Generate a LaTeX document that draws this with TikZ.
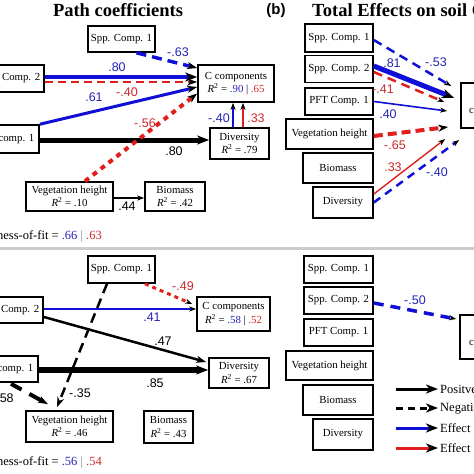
\documentclass[tikz,border=0pt]{standalone}
\usepackage{fontspec}
\setmainfont{Liberation Serif}
\newfontfamily\lsans{Liberation Sans}
\usetikzlibrary{arrows.meta}
\definecolor{pblue}{RGB}{15,15,215}
\definecolor{pred}{RGB}{225,30,30}
\definecolor{tblue}{RGB}{35,35,180}
\definecolor{tred}{RGB}{205,40,40}
\newcommand\Rsq{\textit{R}\textsuperscript{2}}
\begin{document}
\begin{tikzpicture}[x=1pt,y=-1pt,
 box/.style={draw,line width=1.6pt,fill=white,inner sep=0pt,align=center,font=\fontsize{10.8}{13.5}\selectfont},
 ebox/.style={box,inner xsep=4pt,anchor=east},
 lab/.style={font=\lsans\fontsize{12.5}{13}\selectfont,inner sep=0pt},
 txt/.style={font=\fontsize{12.5}{13}\selectfont,inner sep=0pt},
 bigarr/.style={-{Stealth[length=12pt,width=9pt,inset=3.5pt,color=black]}},
 midarr/.style={-{Stealth[length=10pt,width=7pt,inset=3pt,color=black]}},
 smallarr/.style={-{Stealth[length=7pt,width=5pt,inset=2pt,color=black]}},
]
\useasboundingbox (0,0) rectangle (474,474);
\clip (0,0) rectangle (474,474);

% titles
\node[font=\bfseries\fontsize{18.5}{20}\selectfont,anchor=base,inner sep=0pt] (t1) at (118,16) {Path coefficients};
\node[font=\lsans\bfseries\fontsize{15}{16}\selectfont,anchor=base,inner sep=0pt] (t2) at (276,14) {(b)};
\node[font=\bfseries\fontsize{18.5}{20}\selectfont,anchor=base west,inner sep=0pt] (t3) at (312,16) {Total Effects on soil C};

% separator
\draw[line width=3pt,gray!40] (0,248) coordinate (sepl) -- (474,248) coordinate (sepr);

% ---------- panel a top ----------
\node[box,minimum width=67pt,minimum height=26pt] (s1a) at (121.5,39) {Spp. Comp. 1};
\node[ebox,minimum height=27pt] (s2a) at (45,78.5) {Spp. Comp. 2};
\node[ebox,minimum height=28pt,inner xsep=5pt] (p1a) at (40,139) {PFT comp. 1};
\node[box,minimum width=76pt,minimum height=37pt] (Ca) at (236,83.5) {C components\\\Rsq{} = \textcolor{tblue}{.90} | \textcolor{tred}{.65}};
\node[box,minimum width=59pt,minimum height=31pt] (Da) at (239.5,143.5) {Diversity\\\Rsq{} = .79};
\node[box,minimum width=87pt,minimum height=29pt] (Va) at (69.5,196.5) {Vegetation height\\\Rsq{} = .10};
\node[box,minimum width=60pt,minimum height=29pt] (Ba) at (175,196.5) {Biomass\\\Rsq{} = .42};

\draw[pblue,line width=3.5pt,dash pattern=on 10pt off 6pt,midarr] ([xshift=15pt]s1a.south) -- ([yshift=15.5pt]Ca.west);
\draw[pblue,line width=4pt,bigarr] ([yshift=1.5pt]s2a.east) -- ([yshift=6.5pt]Ca.west);
\draw[pred,line width=2.5pt,dash pattern=on 8pt off 5pt,midarr] ([yshift=-3.5pt]s2a.east) -- ([yshift=1.5pt]Ca.west);
\draw[pblue,line width=3pt,midarr] (p1a.north east) -- ([yshift=-3.5pt]Ca.west);
\draw[line width=5pt,bigarr] ([yshift=-1pt]p1a.east) -- ([yshift=3.5pt]Da.west);
\draw[pred,line width=4pt,dash pattern=on 5pt off 5pt,midarr] ([xshift=15.5pt]Va.north) -- ([yshift=-10pt]Ca.west);
\draw[pblue,line width=2.5pt,smallarr] ([xshift=-6.5pt]Da.north) -- ([xshift=-3pt]Ca.south);
\draw[pred,line width=1.3pt,smallarr] ([xshift=3.5pt]Da.north) -- ([xshift=7pt]Ca.south);
\draw[line width=1.6pt,smallarr] ([yshift=-1.5pt]Va.east) -- ([yshift=-1.5pt]Ba.west);

\node[lab,tblue] (la1) at (178,52) {-.63};
\node[lab,tblue] (la2) at (117,67) {.80};
\node[lab,tred] (la3) at (127,92) {-.40};
\node[lab,tblue] (la4) at (94,97) {.61};
\node[lab] (la5) at (174,151) {.80};
\node[lab,tred] (la6) at (145,123) {-.56};
\node[lab,tblue] (la7) at (219,118) {-.40};
\node[lab,tred] (la8) at (256,118) {.33};
\node[lab] (la9) at (127,206) {.44};
\node[txt,anchor=base east] (gfa) at (102,239) {Goodness-of-fit = \textcolor{tblue}{.66} \textcolor{gray}{|} \textcolor{tred}{.63}};

% ---------- panel b top ----------
\node[box,minimum width=68pt,minimum height=28pt] (s1b) at (339,38) {Spp. Comp. 1};
\node[box,minimum width=68pt,minimum height=27pt] (s2b) at (339,69) {Spp. Comp. 2};
\node[box,minimum width=68pt,minimum height=27pt] (p1b) at (339,101.5) {PFT Comp. 1};
\node[box,minimum width=87pt,minimum height=30pt] (vhb) at (329.5,134) {Vegetation height};
\node[box,minimum width=70pt,minimum height=30pt] (bmb) at (338,168) {Biomass};
\node[box,minimum width=60pt,minimum height=31pt] (dvb) at (343,202.5) {Diversity};
\node[box,minimum width=80pt,minimum height=45pt] (tgb) at (501,105.5) {};
\node[font=\fontsize{10.8}{12}\selectfont,inner sep=0pt,anchor=base west] (tgbt) at (469,113) {c};

\draw[pblue,line width=2.5pt,dash pattern=on 9pt off 6pt,smallarr] ([yshift=-2pt]s1b.east) -- ([shift={(-9pt,19.5pt)}]tgb.west);
\draw[pblue,line width=5pt,bigarr] ([yshift=3pt]s2b.east) -- ([shift={(-6pt,7.5pt)}]tgb.west);
\draw[pred,line width=2.5pt,dash pattern=on 9pt off 6pt,smallarr] ([yshift=-3pt]s2b.east) -- ([shift={(-16pt,3.5pt)}]tgb.west);
\draw[pblue,line width=1.6pt,smallarr] (p1b.east) -- ([shift={(-13pt,-5.5pt)}]tgb.west);
\draw[pred,line width=4pt,dash pattern=on 9pt off 5pt,midarr] ([yshift=-2pt]vhb.east) -- ([shift={(-12pt,-21.5pt)}]tgb.west);
\draw[pred,line width=1.4pt,smallarr] ([yshift=8.5pt]dvb.east) -- ([shift={(-15pt,-33.5pt)}]tgb.west);
\draw[pblue,line width=2.5pt,dash pattern=on 8pt off 6pt,smallarr] (dvb.east) -- ([shift={(-1pt,-34.5pt)}]tgb.west);

\node[lab,tblue] (lb1) at (436,62) {-.53};
\node[lab,tblue] (lb2) at (392,63) {.81};
\node[lab,tred] (lb3) at (383,89) {-.41};
\node[lab,tblue] (lb4) at (388,114) {.40};
\node[lab,tred] (lb5) at (395,145) {-.65};
\node[lab,tred] (lb6) at (393,167) {.33};
\node[lab,tblue] (lb7) at (437,172) {-.40};

% ---------- panel a bottom ----------
\node[box,minimum width=67pt,minimum height=27pt] (s1c) at (121.5,269.5) {Spp. Comp. 1};
\node[ebox,minimum height=26pt] (s2c) at (44,310) {Spp. Comp. 2};
\node[box,minimum width=73pt,minimum height=34pt] (Cc) at (233.5,314) {C components\\\Rsq{} = \textcolor{tblue}{.58} | \textcolor{tred}{.52}};
\node[box,minimum width=60pt,minimum height=30pt] (Dc) at (239,373) {Diversity\\\Rsq{} = .67};
\node[ebox,minimum height=26pt,inner xsep=5pt] (p1c) at (39,369) {PFT comp. 1};
\node[box,minimum width=87pt,minimum height=31pt] (Vc) at (69.5,426.5) {Vegetation height\\\Rsq{} = .46};
\node[box,minimum width=49pt,minimum height=32pt] (Bc) at (168.5,427) {Biomass\\\Rsq{} = .43};

\draw[pblue,line width=1.4pt,smallarr] ([yshift=1pt]s2c.east) -- ([yshift=1pt]s2c.east -| Cc.west);
\draw[pred,line width=3pt,dash pattern=on 4pt off 4pt,smallarr] ([xshift=23.5pt]s1c.south) -- ([shift={(-4pt,10pt)}]Cc.west);
\draw[line width=2.5pt,midarr] ([yshift=-7pt]s2c.east) -- ([shift={(-2pt,11pt)}]Dc.west);
\draw[line width=5.5pt,bigarr] ([yshift=-1pt]p1c.east) -- ([yshift=-1pt]p1c.east -| Dc.west);
\draw[line width=2.5pt,dash pattern=on 10pt off 6pt,midarr] ([xshift=-14.5pt]s1c.south) -- ([shift={(-12.5pt,3pt)}]Vc.north);
\draw[line width=4pt,dash pattern=on 12pt off 9pt on 40pt,midarr] ([shift={(-28pt,-1pt)}]p1c.south east) -- ([shift={(-21.5pt,6pt)}]Vc.north);

\node[lab,tred] (lc1) at (183,286) {-.49};
\node[lab,tblue] (lc2) at (152,317) {.41};
\node[lab] (lc3) at (163,341) {.47};
\node[lab] (lc4) at (155,383) {.85};
\node[lab] (lc5) at (80,393) {-.35};
\node[lab] (lc6) at (5,398) {.58};
\node[txt,anchor=base east] (gfc) at (102,465) {Goodness-of-fit = \textcolor{tblue}{.56} \textcolor{gray}{|} \textcolor{tred}{.54}};

% ---------- panel b bottom ----------
\node[box,minimum width=69pt,minimum height=27pt] (s1d) at (338.5,269.5) {Spp. Comp. 1};
\node[box,minimum width=69pt,minimum height=27pt] (s2d) at (338.5,300.5) {Spp. Comp. 2};
\node[box,minimum width=69pt,minimum height=27pt] (p1d) at (338.5,332.5) {PFT Comp. 1};
\node[box,minimum width=87pt,minimum height=29pt] (vhd) at (329.5,365.5) {Vegetation height};
\node[box,minimum width=70pt,minimum height=30pt] (bmd) at (338,400) {Biomass};
\node[box,minimum width=60pt,minimum height=31pt] (dvd) at (343,434.5) {Diversity};
\node[box,minimum width=80pt,minimum height=44pt] (tgd) at (500,337) {};
\node[font=\fontsize{10.8}{12}\selectfont,inner sep=0pt,anchor=base west] (tgdt) at (469,345) {c};

\draw[pblue,line width=3.5pt,dash pattern=on 10pt off 7pt,smallarr] ([yshift=-2.5pt]s2d.east) -- ([shift={(-3pt,18pt)}]tgd.west);
\node[lab,tblue] (ld1) at (415,300) {-.50};

% ---------- legend ----------
\coordinate (g1a) at (396,389); \coordinate (g1b) at (438,389);
\coordinate (g2a) at (396,408); \coordinate (g2b) at (438,408);
\coordinate (g3a) at (396,428); \coordinate (g3b) at (438,428);
\coordinate (g4a) at (396,448); \coordinate (g4b) at (438,448);
\draw[line width=3pt,bigarr] (g1a) -- (g1b);
\draw[line width=3pt,dash pattern=on 7pt off 5pt,bigarr] (g2a) -- (g2b);
\draw[pblue,line width=3pt,bigarr] (g3a) -- (g3b);
\draw[pred,line width=3pt,bigarr] (g4a) -- (g4b);
\node[txt,anchor=west] (gt1) at (440,389) {Positve effect};
\node[txt,anchor=west] (gt2) at (440,408) {Negative effect};
\node[txt,anchor=west] (gt3) at (440,428) {Effect on C};
\node[txt,anchor=west] (gt4) at (440,448) {Effect on C};
\end{tikzpicture}
\end{document}
